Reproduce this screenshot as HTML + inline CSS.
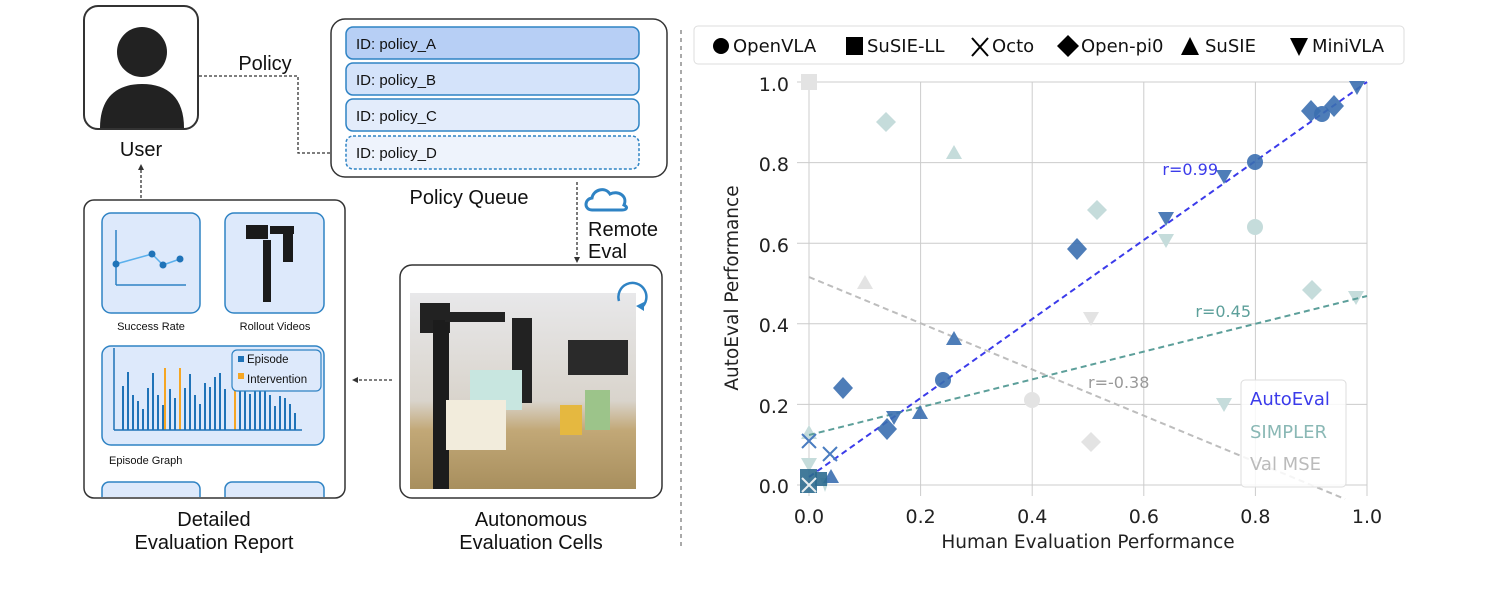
<!DOCTYPE html>
<html><head><style>
html,body{margin:0;padding:0;background:#fff;}
svg{display:block;font-family:"Liberation Sans","DejaVu Sans",sans-serif;}
.c{font-family:"DejaVu Sans","Liberation Sans",sans-serif;}
</style></head><body>
<svg width="1494" height="589" viewBox="0 0 1494 589" xmlns="http://www.w3.org/2000/svg">
<!-- LEFT DIAGRAM -->
<rect x="84" y="6" width="114" height="123" rx="14" fill="#fff" stroke="#333" stroke-width="2"/>
<circle cx="142" cy="52" r="25" fill="#222"/>
<path d="M100 128 C100 98 116 84 142 84 C168 84 184 98 184 128 Z" fill="#222"/>
<text x="141" y="156" font-size="20" text-anchor="middle" fill="#111">User</text>
<text x="265" y="70" font-size="20" text-anchor="middle" fill="#111">Policy</text>
<path d="M199 76 H298 V153 H340" fill="none" stroke="#333" stroke-width="1.3" stroke-dasharray="3,2"/>
<path d="M340 150 L346 153 L340 156 Z" fill="#333"/>
<path d="M141 198 V168" fill="none" stroke="#333" stroke-width="1.3" stroke-dasharray="3,2"/>
<path d="M138 170 L141 164 L144 170 Z" fill="#333"/>
<rect x="331" y="19" width="336" height="158" rx="14" fill="#fff" stroke="#333" stroke-width="1.5"/>
<rect x="346" y="27" width="293" height="32" rx="7" fill="#b7cff5" stroke="#2f83c4" stroke-width="1.5"/>
<rect x="346" y="63" width="293" height="32" rx="7" fill="#d4e3fa" stroke="#2f83c4" stroke-width="1.5"/>
<rect x="346" y="99" width="293" height="32" rx="7" fill="#e3ecfb" stroke="#2f83c4" stroke-width="1.5"/>
<rect x="346" y="136" width="293" height="33" rx="7" fill="#eef3fc" stroke="#2f83c4" stroke-width="1.5" stroke-dasharray="3,2"/>
<g font-size="15" fill="#111">
<text x="356" y="49">ID: policy_A</text>
<text x="356" y="85">ID: policy_B</text>
<text x="356" y="121">ID: policy_C</text>
<text x="356" y="158">ID: policy_D</text>
</g>
<text x="469" y="204" font-size="20" text-anchor="middle" fill="#111">Policy Queue</text>
<path d="M577 182 V258" fill="none" stroke="#333" stroke-width="1.3" stroke-dasharray="3,2"/>
<path d="M574 257 L577 263 L580 257 Z" fill="#333"/>
<path d="M592 210 C584 210 584 199 592 198 C593 190 605 186 610 194 C618 190 628 196 624 205 C628 207 627 210 622 210 Z" fill="none" stroke="#2f83c4" stroke-width="3"/>
<text x="588" y="236" font-size="20" fill="#111">Remote</text>
<text x="588" y="258" font-size="20" fill="#111">Eval</text>
<rect x="400" y="265" width="262" height="233" rx="12" fill="#fff" stroke="#333" stroke-width="1.5"/>
<defs>
<linearGradient id="ph" x1="0" y1="0" x2="0" y2="1">
<stop offset="0" stop-color="#e8e8ea"/><stop offset="0.55" stop-color="#d9d4cc"/><stop offset="0.7" stop-color="#c2a877"/><stop offset="1" stop-color="#a88f5e"/>
</linearGradient>
</defs>
<rect x="410" y="293" width="226" height="196" fill="url(#ph)"/>
<rect x="420" y="303" width="30" height="30" fill="#222"/>
<rect x="433" y="320" width="16" height="169" fill="#1c1c1c"/>
<rect x="445" y="312" width="60" height="10" fill="#222"/>
<rect x="512" y="318" width="20" height="85" fill="#222"/>
<rect x="568" y="340" width="60" height="35" fill="#2a2a2a"/>
<rect x="470" y="370" width="52" height="40" fill="#c8e6e0"/>
<rect x="585" y="390" width="25" height="40" fill="#9cc48a"/>
<rect x="560" y="405" width="22" height="30" fill="#e5b840"/>
<rect x="446" y="400" width="60" height="50" fill="#f2ecdc"/>
<path d="M619 301 A14 14 0 1 1 641 308" fill="none" stroke="#2f83c4" stroke-width="2.5"/>
<path d="M636 306 L644 311 L644 302 Z" fill="#2f83c4"/>
<text x="531" y="526" font-size="20" text-anchor="middle" fill="#111">Autonomous</text>
<text x="531" y="549" font-size="20" text-anchor="middle" fill="#111">Evaluation Cells</text>
<path d="M392 380 H356" fill="none" stroke="#333" stroke-width="1.3" stroke-dasharray="3,2"/>
<path d="M358 377 L352 380 L358 383 Z" fill="#333"/>
<rect x="84" y="200" width="261" height="298" rx="10" fill="#fff" stroke="#333" stroke-width="1.5"/>
<rect x="102" y="213" width="98" height="100" rx="9" fill="#dde9fb" stroke="#2f83c4" stroke-width="1.5"/>
<rect x="225" y="213" width="99" height="100" rx="9" fill="#dde9fb" stroke="#2f83c4" stroke-width="1.5"/>
<path d="M116 285 V230 M116 285 H186" stroke="#2f83c4" stroke-width="1.5" fill="none"/>
<polyline points="116,264 152,254 163,265 180,259" fill="none" stroke="#5ab0ec" stroke-width="1.5"/>
<g fill="#1f73b8"><circle cx="116" cy="264" r="3.5"/><circle cx="152" cy="254" r="3.5"/><circle cx="163" cy="265" r="3.5"/><circle cx="180" cy="259" r="3.5"/></g>
<rect x="263" y="240" width="8" height="62" fill="#1a1a1a"/>
<rect x="246" y="225" width="22" height="14" fill="#1a1a1a"/>
<rect x="270" y="226" width="24" height="8" fill="#1a1a1a"/>
<rect x="283" y="232" width="10" height="30" fill="#1a1a1a"/>
<text x="151" y="330" font-size="11" text-anchor="middle" fill="#111">Success Rate</text>
<text x="275" y="330" font-size="11" text-anchor="middle" fill="#111">Rollout Videos</text>
<rect x="102" y="346" width="222" height="99" rx="9" fill="#dde9fb" stroke="#2f83c4" stroke-width="1.5"/>
<g stroke="#1f73b8" stroke-width="2">
<path d="M123 430V386 M128 430V372 M133 430V395 M138 430V401 M143 430V409 M148 430V388 M153 430V373 M158 430V395 M163 430V405 M170 430V389 M175 430V398 M180 430V406 M185 430V388 M190 430V374 M195 430V395 M200 430V404 M205 430V383 M210 430V387 M215 430V377 M220 430V373 M225 430V389 M240 430V390 M245 430V385 M250 430V394 M255 430V386 M260 430V380 M265 430V385 M270 430V395 M275 430V406 M280 430V396 M285 430V398 M290 430V404 M295 430V413"/>
</g>
<g stroke="#f5a623" stroke-width="2"><path d="M165 430V368 M180 430V368 M235 430V380"/></g>
<path d="M114 430 H302 M114 430 V348" stroke="#1f73b8" stroke-width="1.5" fill="none"/>
<rect x="232" y="350" width="89" height="41" rx="5" fill="#dde9fb" stroke="#2f83c4" stroke-width="1.2"/>
<rect x="238" y="356" width="6" height="6" fill="#1f73b8"/>
<rect x="238" y="373" width="6" height="6" fill="#f5a623"/>
<text x="247" y="363" font-size="11.5" fill="#111">Episode</text>
<text x="247" y="383" font-size="11.5" fill="#111">Intervention</text>
<text x="109" y="464" font-size="11" fill="#111">Episode Graph</text>
<path d="M102 497 V489 a7 7 0 0 1 7-7 H193 a7 7 0 0 1 7 7 V497" fill="#dde9fb" stroke="#2f83c4" stroke-width="1.5"/>
<path d="M225 497 V489 a7 7 0 0 1 7-7 H317 a7 7 0 0 1 7 7 V497" fill="#dde9fb" stroke="#2f83c4" stroke-width="1.5"/>
<text x="214" y="526" font-size="20" text-anchor="middle" fill="#111">Detailed</text>
<text x="214" y="549" font-size="20" text-anchor="middle" fill="#111">Evaluation Report</text>
<path d="M681 30 V548" stroke="#aaa" stroke-width="2" stroke-dasharray="4,4"/>

<!-- CHART -->
<g class="c">
<rect x="694" y="26" width="710" height="38" rx="4" fill="#fff" stroke="#ddd" stroke-width="1"/>
<g font-size="18" fill="#111">
<circle cx="721" cy="46" r="8" fill="#000"/><text x="733" y="52">OpenVLA</text>
<rect x="846" y="37" width="17" height="18" fill="#000"/><text x="867" y="52">SuSIE-LL</text>
<path d="M972 38 L988 56 M988 38 L972 56" stroke="#000" stroke-width="2"/><text x="992" y="52">Octo</text>
<path d="M1068 35 L1079 46 L1068 57 L1057 46 Z" fill="#000"/><text x="1081" y="52">Open-pi0</text>
<path d="M1190 37 L1199 55 L1181 55 Z" fill="#000"/><text x="1205" y="52">SuSIE</text>
<path d="M1290 38 L1308 38 L1299 56 Z" fill="#000"/><text x="1312" y="52">MiniVLA</text>
</g>
<g stroke="#ccc" stroke-width="1">
<path d="M809 82V496 M920.6 82V496 M1032.2 82V496 M1143.8 82V496 M1255.4 82V496 M1367 82V496"/>
<path d="M797 82H1367 M797 162.6H1367 M797 243.2H1367 M797 323.8H1367 M797 404.4H1367 M797 485H1367"/>
</g>
<g font-size="19" fill="#222" text-anchor="end">
<text x="789" y="91">1.0</text><text x="789" y="171">0.8</text><text x="789" y="252">0.6</text>
<text x="789" y="332">0.4</text><text x="789" y="413">0.2</text><text x="789" y="493">0.0</text>
</g>
<g font-size="19" fill="#222" text-anchor="middle">
<text x="809" y="523">0.0</text><text x="920.6" y="523">0.2</text><text x="1032.2" y="523">0.4</text>
<text x="1143.8" y="523">0.6</text><text x="1255.4" y="523">0.8</text><text x="1367" y="523">1.0</text>
</g>
<text x="1088" y="548" font-size="18.5" text-anchor="middle" fill="#222">Human Evaluation Performance</text>
<text transform="translate(738,288) rotate(-90)" font-size="18.5" text-anchor="middle" fill="#222">AutoEval Performance</text>

<g fill="#e3e3e3">
<rect x="801" y="74" width="16" height="16"/>
<path d="M865 275 L873 289 L857 289 Z"/>
<path d="M1083 312 L1099 312 L1091 326 Z"/>
<circle cx="1032" cy="400" r="8"/>
<path d="M1091 432 L1101 442 L1091 452 L1081 442 Z"/>
</g>
<g fill="#c5dcdb">
<path d="M886 112 L896 122 L886 132 L876 122 Z"/>
<path d="M1097 200 L1107 210 L1097 220 L1087 210 Z"/>
<path d="M1312 280 L1322 290 L1312 300 L1302 290 Z"/>
<path d="M954 145 L962 159 L946 159 Z"/>
<path d="M809 425 L817 439 L801 439 Z"/>
<circle cx="1255" cy="227" r="8"/>
<path d="M1158 234 L1174 234 L1166 248 Z"/>
<path d="M1348 291 L1364 291 L1356 305 Z"/>
<path d="M1216 398 L1232 398 L1224 412 Z"/>
<path d="M801 458 L817 458 L809 472 Z"/>
<path d="M820 478 L830 478 L825 492 Z"/>
</g>
<path d="M809 477 L1367 82" stroke="#3b3bea" stroke-width="2" stroke-dasharray="6,4" fill="none"/>
<path d="M809 435 L1367 296" stroke="#5c9f9a" stroke-width="2" stroke-dasharray="6,4" fill="none"/>
<path d="M809 277 L1345 499" stroke="#bdbdbd" stroke-width="2" stroke-dasharray="6,4" fill="none"/>
<g fill="#3b6fb0" fill-opacity="0.9">
<circle cx="943" cy="380" r="8"/><circle cx="1255" cy="162" r="8"/><circle cx="1322" cy="114" r="8"/>
<path d="M843 377 L853 388 L843 399 L833 388 Z"/>
<path d="M1077 238 L1087 249 L1077 260 L1067 249 Z"/>
<path d="M1311 100 L1321 111 L1311 122 L1301 111 Z"/>
<path d="M1334 95 L1344 106 L1334 117 L1324 106 Z"/>
<path d="M887 418 L897 429 L887 440 L877 429 Z"/>
<path d="M954 331 L962 345 L946 345 Z"/>
<path d="M920 405 L928 419 L912 419 Z"/>
<path d="M831 469 L839 483 L823 483 Z"/>
<path d="M1158 212 L1174 212 L1166 226 Z"/>
<path d="M1216 170 L1232 170 L1224 184 Z"/>
<path d="M1349 81 L1365 81 L1357 95 Z"/>
<path d="M886 411 L902 411 L894 425 Z"/>
<rect x="800" y="469" width="17" height="24" fill="#2e6b8f"/>
<rect x="815" y="472" width="12" height="14" fill="#2e6b8f"/>
</g>
<g stroke="#4a7cc0" stroke-width="2" fill="none">
<path d="M802 434 L816 448 M816 434 L802 448"/>
<path d="M823 447 L837 461 M837 447 L823 461"/>
</g>
<path d="M802 478 L816 492 M816 478 L802 492" stroke="#e8eef0" stroke-width="2"/>
<text x="1218" y="175" font-size="16" text-anchor="end" fill="#3b3bea">r=0.99</text>
<text x="1251" y="317" font-size="16" text-anchor="end" fill="#5c9f9a">r=0.45</text>
<text x="1088" y="388" font-size="16" fill="#999">r=-0.38</text>
<rect x="1241" y="380" width="105" height="107" rx="4" fill="#fff" fill-opacity="0.85" stroke="#ddd"/>
<text x="1250" y="405" font-size="18" fill="#3b3bea">AutoEval</text>
<text x="1250" y="438" font-size="18" fill="#8ab8b5">SIMPLER</text>
<text x="1250" y="470" font-size="18" fill="#bbb">Val MSE</text>
</g>
</svg>
</body></html>
